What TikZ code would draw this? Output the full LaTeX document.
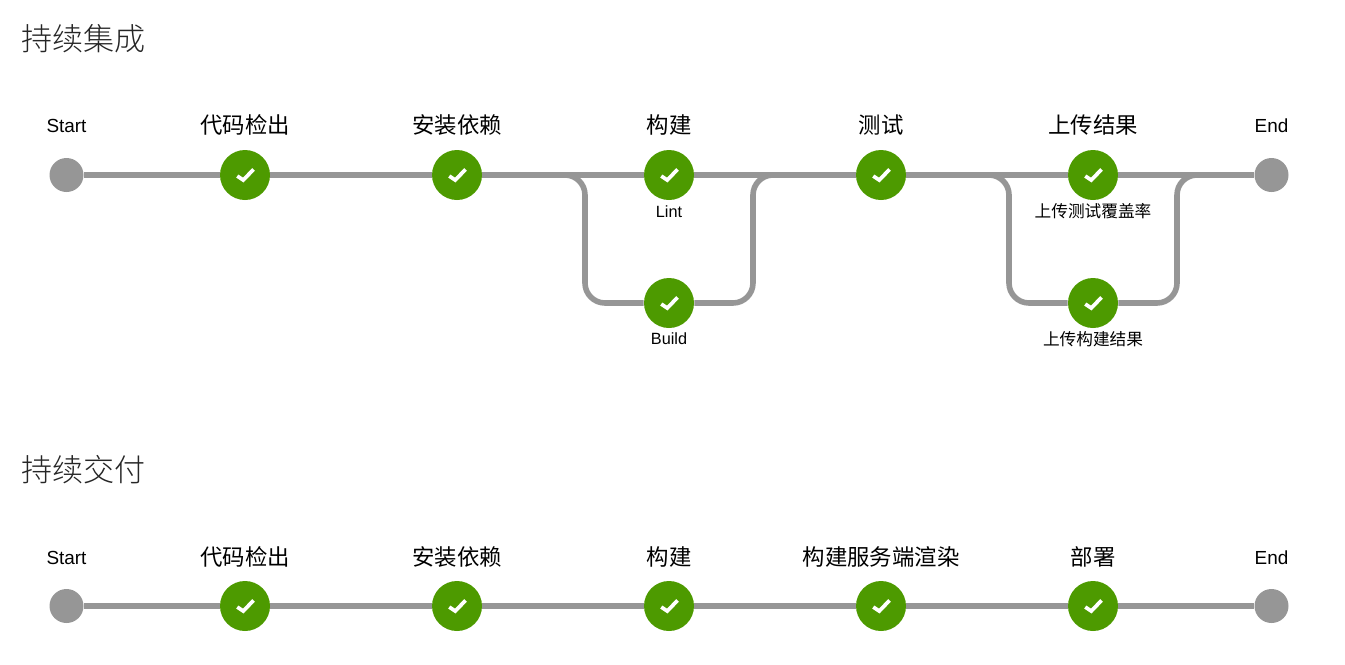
\documentclass[tikz,border=0pt]{standalone}
\usepackage{fontspec}
\setmainfont{Liberation Sans}
\newfontfamily\cjk{Noto Sans CJK SC}
\newfontfamily\cjklight{Noto Sans CJK SC Light}
\usepackage{tikz}

\definecolor{pipegray}{HTML}{969696}
\definecolor{okgreen}{HTML}{4D9A00}

\begin{document}
\begin{tikzpicture}
[x=0.75pt,y=-0.75pt,
 pipe/.style={draw=pipegray,line width=4.2pt},
 term/.style={circle,fill=pipegray,inner sep=0pt,minimum size=25.5pt},
 stage/.style={circle,fill=okgreen,inner sep=0pt,minimum size=37.5pt,
   path picture={\draw[white,line width=2.8pt]
     ([shift={(-5.8pt,-0.8pt)}]path picture bounding box.center) --
     ([shift={(-1.3pt,-3.8pt)}]path picture bounding box.center) --
     ([shift={(6.4pt,4.2pt)}]path picture bounding box.center);}},
 title/.style={inner sep=0pt,anchor=west,font=\fontsize{23.3pt}{26pt}\cjklight,text=black!85},
 head/.style={inner sep=0pt,font=\fontsize{16.8pt}{19pt}\cjk},
 ends/.style={inner sep=0pt,font=\fontsize{14.2pt}{16pt}\selectfont},
 sub/.style={inner sep=0pt,font=\fontsize{12.5pt}{14pt}\cjk},
 subl/.style={inner sep=0pt,font=\fontsize{12.2pt}{14pt}\selectfont}]
\useasboundingbox (0,0) rectangle (1345,664);

\node[title] (ciTitle) at (21.5,39) {持续集成};
\node[title] (cdTitle) at (21.5,470) {持续交付};

% continuous integration
\node[term] (ciStart) at (66.5,175) {};
\node[stage] (ciCheckout) at (245,175) {};
\node[stage] (ciInstall) at (457,175) {};
\node[stage] (ciLint) at (669,175) {};
\node[stage] (ciBuild) at (669,303) {};
\node[stage] (ciTest) at (881,175) {};
\node[stage] (ciCover) at (1093,175) {};
\node[stage] (ciUpload) at (1093,303) {};
\node[term] (ciEnd) at (1271.5,175) {};

\node[ends] (ciStartL) at (66.5,126) {Start};
\node[head] (ciCheckoutL) at (245,125) {代码检出};
\node[head] (ciInstallL) at (457,125) {安装依赖};
\node[head] (ciLintH) at (669,125) {构建};
\node[head] (ciTestL) at (881,125) {测试};
\node[head] (ciCoverH) at (1093,125) {上传结果};
\node[ends] (ciEndL) at (1271.5,126) {End};
\node[subl] (ciLintL) at (669,212) {Lint};
\node[subl] (ciBuildL) at (669,339) {Build};
\node[sub] (ciCoverL) at (1093,211) {上传测试覆盖率};
\node[sub] (ciUploadL) at (1093,339) {上传构建结果};

\draw[pipe] (ciStart) -- (ciCheckout);
\draw[pipe] (ciCheckout) -- (ciInstall);
\draw[pipe] (ciInstall) -- (ciLint);
\draw[pipe] (ciLint) -- (ciTest);
\draw[pipe] (ciTest) -- (ciCover);
\draw[pipe] (ciCover) -- (ciEnd);

\coordinate (AA) at (565,175);
\coordinate (AB) at (585,175);
\coordinate (AC) at (775,175);
\coordinate (AD) at (753,175);
\coordinate (BA) at (989,175);
\coordinate (BB) at (1009,175);
\coordinate (BC) at (1199,175);
\coordinate (BD) at (1177,175);

\draw[pipe,rounded corners=15pt] (AA) -- (AB) -- (AB |- ciBuild) -- (ciBuild);
\draw[pipe,rounded corners=15pt] (ciBuild) -- (AD |- ciBuild) -- (AD) -- (AC);
\draw[pipe,rounded corners=15pt] (BA) -- (BB) -- (BB |- ciUpload) -- (ciUpload);
\draw[pipe,rounded corners=15pt] (ciUpload) -- (BD |- ciUpload) -- (BD) -- (BC);

% continuous delivery
\node[term] (cdStart) at (66.5,606) {};
\node[term] (cdEnd) at (1271.5,606) {};
\node[ends] (cdStartL) at (66.5,558) {Start};
\node[ends] (cdEndL) at (1271.5,558) {End};

\foreach \name/\x/\txt in {A/245/代码检出,B/457/安装依赖,C/669/构建,D/881/构建服务端渲染,E/1093/部署}
{
  \node[stage] (cd\name) at (\x,606) {};
  \node[head] (cd\name L) at (\x,557) {\txt};
}

\draw[pipe] (cdStart) -- (cdA);
\draw[pipe] (cdA) -- (cdB);
\draw[pipe] (cdB) -- (cdC);
\draw[pipe] (cdC) -- (cdD);
\draw[pipe] (cdD) -- (cdE);
\draw[pipe] (cdE) -- (cdEnd);

\end{tikzpicture}
\end{document}
